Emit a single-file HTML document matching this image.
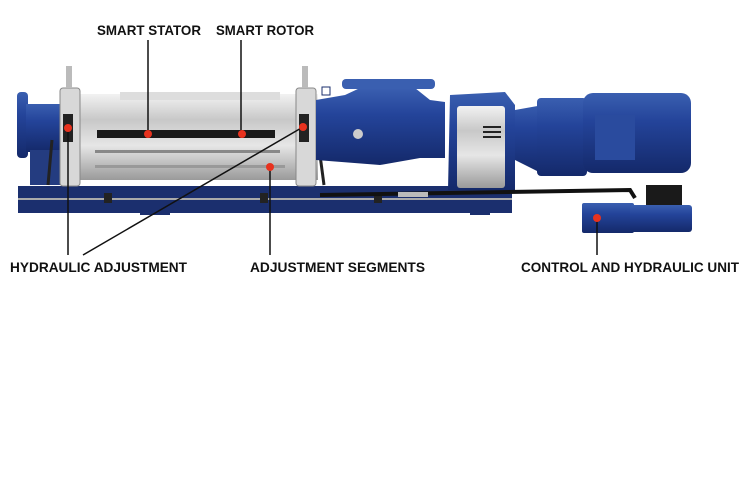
<!DOCTYPE html>
<html><head><meta charset="utf-8"><style>
html,body{margin:0;padding:0;background:#fff;width:750px;height:500px;overflow:hidden}
svg{display:block}
text{font-family:"Liberation Sans Narrow","Liberation Sans",sans-serif;font-weight:bold;font-size:14px;fill:#111}
</style></head><body>
<svg width="750" height="500" viewBox="0 0 750 500">
<defs>
<linearGradient id="blue" x1="0" y1="0" x2="0" y2="1">
<stop offset="0" stop-color="#3a5fb0"/><stop offset="0.35" stop-color="#24449a"/><stop offset="1" stop-color="#14296a"/></linearGradient>
<linearGradient id="silver" x1="0" y1="0" x2="0" y2="1">
<stop offset="0" stop-color="#f2f2f2"/><stop offset="0.3" stop-color="#c8c8c8"/><stop offset="0.6" stop-color="#e6e6e6"/><stop offset="1" stop-color="#9a9a9a"/></linearGradient>
</defs>
<!-- base -->
<rect x="18" y="186" width="494" height="27" fill="#1b2f6e"/>
<rect x="18" y="198" width="494" height="2" fill="#aaa"/>
<rect x="140" y="210" width="30" height="5" fill="#1b2f6e"/>
<rect x="470" y="210" width="20" height="5" fill="#1b2f6e"/>
<rect x="104" y="193" width="8" height="10" fill="#222"/>
<rect x="260" y="193" width="8" height="10" fill="#222"/>
<rect x="374" y="193" width="8" height="10" fill="#222"/>
<!-- left flange and pipe -->
<rect x="17" y="92" width="11" height="66" rx="4" fill="url(#blue)"/>
<rect x="26" y="104" width="36" height="48" fill="url(#blue)"/>
<rect x="30" y="150" width="30" height="35" fill="#243c80"/>
<!-- stator -->
<rect x="60" y="94" width="258" height="86" fill="url(#silver)"/>
<rect x="120" y="92" width="160" height="8" fill="#ddd"/>
<rect x="97" y="130" width="178" height="8" fill="#1a1a1a"/>
<rect x="95" y="150" width="185" height="3" fill="#888"/>
<rect x="95" y="165" width="190" height="3" fill="#999"/>
<!-- clamps -->
<rect x="60" y="88" width="20" height="98" rx="3" fill="#d8d8d8" stroke="#888"/>
<rect x="296" y="88" width="20" height="98" rx="3" fill="#d8d8d8" stroke="#888"/>
<rect x="63" y="114" width="10" height="28" fill="#222"/>
<rect x="299" y="114" width="10" height="28" fill="#222"/>
<rect x="66" y="66" width="6" height="22" fill="#bbb"/>
<rect x="302" y="66" width="6" height="22" fill="#bbb"/>
<line x1="52" y1="140" x2="48" y2="185" stroke="#222" stroke-width="3"/>
<line x1="318" y1="140" x2="324" y2="185" stroke="#222" stroke-width="3"/>
<!-- pump body -->
<path d="M316 100 L345 95 L360 88 L415 88 L430 100 L445 102 L445 158 L420 158 L380 165 L316 160 Z" fill="url(#blue)"/>
<rect x="342" y="79" width="93" height="10" rx="4" fill="#3a5fb0"/>
<rect x="322" y="87" width="8" height="8" fill="#fff" stroke="#1b2f6e"/>
<circle cx="358" cy="134" r="5" fill="#ccc"/>
<!-- gearbox housing -->
<path d="M450 95 L505 92 L515 105 L515 190 L448 190 Z" fill="url(#blue)"/>
<rect x="457" y="106" width="48" height="82" rx="3" fill="url(#silver)"/>
<rect x="483" y="126" width="18" height="2" fill="#222"/><rect x="483" y="131" width="18" height="2" fill="#222"/><rect x="483" y="136" width="18" height="2" fill="#222"/>
<!-- coupling & motor -->
<path d="M515 110 L560 102 L580 102 L580 170 L545 175 L515 160 Z" fill="url(#blue)"/>
<rect x="537" y="98" width="50" height="78" rx="4" fill="url(#blue)"/>
<rect x="583" y="93" width="108" height="80" rx="10" fill="url(#blue)"/>
<rect x="595" y="115" width="40" height="45" fill="#2a4b9e"/>
<!-- hose -->
<path d="M320 195 L630 190 L635 198" stroke="#111" stroke-width="4" fill="none"/>
<rect x="398" y="192" width="30" height="5" fill="#bbb"/>
<!-- hydraulic unit -->
<rect x="582" y="203" width="52" height="30" rx="2" fill="url(#blue)"/>
<rect x="630" y="205" width="62" height="27" rx="3" fill="url(#blue)"/>
<rect x="646" y="185" width="36" height="20" fill="#1a1a1a"/>
<!-- leader lines -->
<g stroke="#111" stroke-width="1.5">
<line x1="148" y1="40" x2="148" y2="133"/>
<line x1="241" y1="40" x2="241" y2="133"/>
<line x1="68" y1="128" x2="68" y2="255"/>
<line x1="83" y1="255" x2="303" y2="127"/>
<line x1="270" y1="167" x2="270" y2="255"/>
<line x1="597" y1="218" x2="597" y2="255"/>
</g>
<g fill="#e8321e">
<circle cx="148" cy="134" r="4"/><circle cx="242" cy="134" r="4"/>
<circle cx="68" cy="128" r="4"/><circle cx="303" cy="127" r="4"/>
<circle cx="270" cy="167" r="4"/><circle cx="597" cy="218" r="4"/>
</g>
<text x="97" y="35" textLength="104" lengthAdjust="spacingAndGlyphs">SMART STATOR</text>
<text x="216" y="35" textLength="98" lengthAdjust="spacingAndGlyphs">SMART ROTOR</text>
<text x="10" y="272" textLength="177" lengthAdjust="spacingAndGlyphs">HYDRAULIC ADJUSTMENT</text>
<text x="250" y="272" textLength="175" lengthAdjust="spacingAndGlyphs">ADJUSTMENT SEGMENTS</text>
<text x="521" y="272" textLength="218" lengthAdjust="spacingAndGlyphs">CONTROL AND HYDRAULIC UNIT</text>
</svg>
</body></html>
